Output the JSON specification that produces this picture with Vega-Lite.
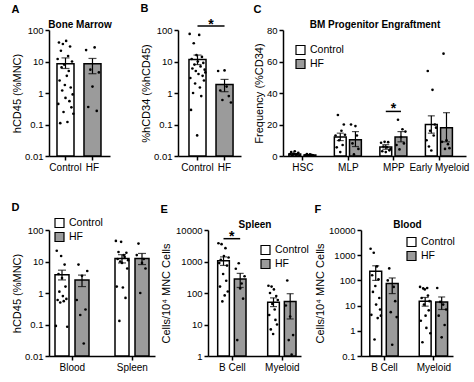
{
"$schema": "https://vega.github.io/schema/vega-lite/v6.json",
"padding": {"left": 11, "top": 2, "right": 2, "bottom": 2},
"config": {
  "font": "Liberation Sans",
  "view": {"stroke": null},
  "axis": {"grid": false, "domainColor": "black", "domainWidth": 1.5, "tickColor": "black", "tickWidth": 1.5, "tickSize": 4, "labelColor": "black", "labelFontSize": 9.5, "labelFont": "Liberation Sans", "titleColor": "black", "titleFontSize": 11, "titleFontWeight": "normal", "titleFont": "Liberation Sans", "labelPadding": 2},
  "axisX": {"labelAngle": 0, "labelFontSize": 10},
  "axisY": {"titlePadding": 2, "labelOverlap": false},
  "title": {"fontSize": 11, "fontWeight": "bold", "anchor": "start", "frame": "bounds", "offset": 0, "color": "black", "font": "Liberation Sans"},
  "legend": {"symbolType": "square", "symbolSize": 81, "symbolStrokeColor": "black", "symbolStrokeWidth": 1.2, "labelFontSize": 10.5, "labelColor": "black", "labelFont": "Liberation Sans", "rowPadding": 2, "clipHeight": 12, "labelOffset": 4}
},
"datasets": {
  "a_bar": [{"cond": "Control", "mean": 8.5, "lo": 6, "hi": 13}, {"cond": "HF", "mean": 8.5, "lo": 4.1, "hi": 12.5}],
  "a_pts": [
    {"cond":"Control","rep":1,"v":12},{"cond":"Control","rep":2,"v":0.45},{"cond":"Control","rep":3,"v":40},{"cond":"Control","rep":4,"v":2.5},{"cond":"Control","rep":5,"v":0.11},
    {"cond":"Control","rep":6,"v":22},{"cond":"Control","rep":7,"v":6.5},{"cond":"Control","rep":8,"v":1.2},{"cond":"Control","rep":9,"v":36},{"cond":"Control","rep":10,"v":0.25},
    {"cond":"Control","rep":11,"v":8},{"cond":"Control","rep":12,"v":1.8},{"cond":"Control","rep":13,"v":0.7},{"cond":"Control","rep":14,"v":45},{"cond":"Control","rep":15,"v":3.5},
    {"cond":"Control","rep":16,"v":0.12},{"cond":"Control","rep":17,"v":15},{"cond":"Control","rep":18,"v":5},{"cond":"Control","rep":19,"v":0.55},{"cond":"Control","rep":20,"v":30},
    {"cond":"Control","rep":21,"v":1.5},{"cond":"Control","rep":22,"v":0.35},{"cond":"Control","rep":23,"v":10},{"cond":"Control","rep":24,"v":0.9},{"cond":"Control","rep":25,"v":0.22},
    {"cond":"HF","rep":1,"v":23},{"cond":"HF","rep":2,"v":0.36},{"cond":"HF","rep":3,"v":5.5},{"cond":"HF","rep":4,"v":1.6},{"cond":"HF","rep":5,"v":28},{"cond":"HF","rep":6,"v":0.27},{"cond":"HF","rep":7,"v":4.5}
  ],
  "b_bar": [{"cond": "Control", "mean": 11.5, "lo": 8, "hi": 16}, {"cond": "HF", "mean": 1.85, "lo": 1.1, "hi": 2.7}],
  "b_sig": [{"cond": "Control", "cond2": "HF", "y": 134, "label": "*"}],
  "b_pts": [
    {"cond":"Control","rep":1,"v":75},{"cond":"Control","rep":2,"v":3},{"cond":"Control","rep":3,"v":0.29},{"cond":"Control","rep":4,"v":12},{"cond":"Control","rep":5,"v":6},
    {"cond":"Control","rep":6,"v":1},{"cond":"Control","rep":7,"v":38},{"cond":"Control","rep":8,"v":8},{"cond":"Control","rep":9,"v":2},{"cond":"Control","rep":10,"v":5},
    {"cond":"Control","rep":11,"v":16},{"cond":"Control","rep":12,"v":0.045},{"cond":"Control","rep":13,"v":10},{"cond":"Control","rep":14,"v":4},{"cond":"Control","rep":15,"v":70},
    {"cond":"Control","rep":16,"v":1.5},{"cond":"Control","rep":17,"v":7},{"cond":"Control","rep":18,"v":0.8},{"cond":"Control","rep":19,"v":14},{"cond":"Control","rep":20,"v":3.5},
    {"cond":"Control","rep":21,"v":9},{"cond":"Control","rep":22,"v":2.5},{"cond":"Control","rep":23,"v":5.5},{"cond":"Control","rep":24,"v":4.5},
    {"cond":"HF","rep":1,"v":5},{"cond":"HF","rep":2,"v":1.2},{"cond":"HF","rep":3,"v":0.6},{"cond":"HF","rep":4,"v":5.2},{"cond":"HF","rep":5,"v":1.6},{"cond":"HF","rep":6,"v":0.8},{"cond":"HF","rep":7,"v":0.5}
  ],
  "c_bar": [
    {"bar":"HSC|Control","cond":"Control","mean":1.3,"lo":1.0,"hi":1.6},{"bar":"HSC|HF","cond":"HF","mean":0.7,"lo":0.55,"hi":0.85},
    {"bar":"MLP|Control","cond":"Control","mean":12,"lo":9.8,"hi":14.5},{"bar":"MLP|HF","cond":"HF","mean":10.3,"lo":6,"hi":15.5},
    {"bar":"MPP|Control","cond":"Control","mean":5.7,"lo":4.3,"hi":7.2},{"bar":"MPP|HF","cond":"HF","mean":12,"lo":9,"hi":15.5},
    {"bar":"Early Myeloid|Control","cond":"Control","mean":20,"lo":14.5,"hi":25.5},{"bar":"Early Myeloid|HF","cond":"HF","mean":18,"lo":9,"hi":27.5}
  ],
  "c_sig": [{"bar": "MPP|Control", "bar2": "MPP|HF", "y": 28.3, "label": "*"}],
  "c_pts": [
    {"bar":"HSC|Control","cond":"Control","rep":1,"v":1.2},{"bar":"HSC|Control","cond":"Control","rep":2,"v":2.5},{"bar":"HSC|Control","cond":"Control","rep":3,"v":0.5},{"bar":"HSC|Control","cond":"Control","rep":4,"v":1.5},{"bar":"HSC|Control","cond":"Control","rep":5,"v":3},{"bar":"HSC|Control","cond":"Control","rep":6,"v":0.8},{"bar":"HSC|Control","cond":"Control","rep":7,"v":1},{"bar":"HSC|Control","cond":"Control","rep":8,"v":2},{"bar":"HSC|Control","cond":"Control","rep":9,"v":0.3},
    {"bar":"HSC|HF","cond":"HF","rep":1,"v":0.6},{"bar":"HSC|HF","cond":"HF","rep":2,"v":1.2},{"bar":"HSC|HF","cond":"HF","rep":3,"v":0.4},{"bar":"HSC|HF","cond":"HF","rep":4,"v":1},{"bar":"HSC|HF","cond":"HF","rep":5,"v":0.8},{"bar":"HSC|HF","cond":"HF","rep":6,"v":0.5},
    {"bar":"MLP|Control","cond":"Control","rep":1,"v":13},{"bar":"MLP|Control","cond":"Control","rep":2,"v":5.5},{"bar":"MLP|Control","cond":"Control","rep":3,"v":26},{"bar":"MLP|Control","cond":"Control","rep":4,"v":10},{"bar":"MLP|Control","cond":"Control","rep":5,"v":2.5},{"bar":"MLP|Control","cond":"Control","rep":6,"v":16},{"bar":"MLP|Control","cond":"Control","rep":7,"v":7},{"bar":"MLP|Control","cond":"Control","rep":8,"v":20},{"bar":"MLP|Control","cond":"Control","rep":9,"v":13.5},
    {"bar":"MLP|HF","cond":"HF","rep":1,"v":20},{"bar":"MLP|HF","cond":"HF","rep":2,"v":8},{"bar":"MLP|HF","cond":"HF","rep":3,"v":1},{"bar":"MLP|HF","cond":"HF","rep":4,"v":19},{"bar":"MLP|HF","cond":"HF","rep":5,"v":13},{"bar":"MLP|HF","cond":"HF","rep":6,"v":4.5},
    {"bar":"MPP|Control","cond":"Control","rep":1,"v":8.4},{"bar":"MPP|Control","cond":"Control","rep":2,"v":3},{"bar":"MPP|Control","cond":"Control","rep":3,"v":6},{"bar":"MPP|Control","cond":"Control","rep":4,"v":9},{"bar":"MPP|Control","cond":"Control","rep":5,"v":2.5},{"bar":"MPP|Control","cond":"Control","rep":6,"v":5.5},{"bar":"MPP|Control","cond":"Control","rep":7,"v":8.8},{"bar":"MPP|Control","cond":"Control","rep":8,"v":3.6},{"bar":"MPP|Control","cond":"Control","rep":9,"v":4.5},
    {"bar":"MPP|HF","cond":"HF","rep":1,"v":7},{"bar":"MPP|HF","cond":"HF","rep":2,"v":23},{"bar":"MPP|HF","cond":"HF","rep":3,"v":4.2},{"bar":"MPP|HF","cond":"HF","rep":4,"v":12},{"bar":"MPP|HF","cond":"HF","rep":5,"v":17},{"bar":"MPP|HF","cond":"HF","rep":6,"v":8},{"bar":"MPP|HF","cond":"HF","rep":7,"v":15.5},
    {"bar":"Early Myeloid|Control","cond":"Control","rep":1,"v":10},{"bar":"Early Myeloid|Control","cond":"Control","rep":2,"v":54},{"bar":"Early Myeloid|Control","cond":"Control","rep":3,"v":6},{"bar":"Early Myeloid|Control","cond":"Control","rep":4,"v":16},{"bar":"Early Myeloid|Control","cond":"Control","rep":5,"v":3.5},{"bar":"Early Myeloid|Control","cond":"Control","rep":6,"v":42},{"bar":"Early Myeloid|Control","cond":"Control","rep":7,"v":13},{"bar":"Early Myeloid|Control","cond":"Control","rep":8,"v":20},{"bar":"Early Myeloid|Control","cond":"Control","rep":9,"v":18},
    {"bar":"Early Myeloid|HF","cond":"HF","rep":1,"v":9},{"bar":"Early Myeloid|HF","cond":"HF","rep":2,"v":65},{"bar":"Early Myeloid|HF","cond":"HF","rep":3,"v":4.5},{"bar":"Early Myeloid|HF","cond":"HF","rep":4,"v":10},{"bar":"Early Myeloid|HF","cond":"HF","rep":5,"v":7.5},{"bar":"Early Myeloid|HF","cond":"HF","rep":6,"v":5}
  ],
  "d_bar": [
    {"bar":"Blood|Control","cond":"Control","mean":3.8,"lo":2.6,"hi":5.3},{"bar":"Blood|HF","cond":"HF","mean":2.6,"lo":1.6,"hi":3.7},
    {"bar":"Spleen|Control","cond":"Control","mean":12.5,"lo":9,"hi":16.5},{"bar":"Spleen|HF","cond":"HF","mean":12.5,"lo":8,"hi":18}
  ],
  "d_pts": [
    {"bar":"Blood|Control","cond":"Control","rep":1,"v":0.09},{"bar":"Blood|Control","cond":"Control","rep":2,"v":22},{"bar":"Blood|Control","cond":"Control","rep":3,"v":0.6},{"bar":"Blood|Control","cond":"Control","rep":4,"v":4},{"bar":"Blood|Control","cond":"Control","rep":5,"v":1.1},{"bar":"Blood|Control","cond":"Control","rep":6,"v":0.5},{"bar":"Blood|Control","cond":"Control","rep":7,"v":15},{"bar":"Blood|Control","cond":"Control","rep":8,"v":3},{"bar":"Blood|Control","cond":"Control","rep":9,"v":0.8},{"bar":"Blood|Control","cond":"Control","rep":10,"v":0.55},{"bar":"Blood|Control","cond":"Control","rep":11,"v":8},{"bar":"Blood|Control","cond":"Control","rep":12,"v":1.6},{"bar":"Blood|Control","cond":"Control","rep":13,"v":0.65},{"bar":"Blood|Control","cond":"Control","rep":14,"v":0.085},
    {"bar":"Blood|HF","cond":"HF","rep":1,"v":0.6},{"bar":"Blood|HF","cond":"HF","rep":2,"v":8},{"bar":"Blood|HF","cond":"HF","rep":3,"v":0.2},{"bar":"Blood|HF","cond":"HF","rep":4,"v":3.5},{"bar":"Blood|HF","cond":"HF","rep":5,"v":0.025},{"bar":"Blood|HF","cond":"HF","rep":6,"v":0.3},{"bar":"Blood|HF","cond":"HF","rep":7,"v":5},
    {"bar":"Spleen|Control","cond":"Control","rep":1,"v":45},{"bar":"Spleen|Control","cond":"Control","rep":2,"v":1.6},{"bar":"Spleen|Control","cond":"Control","rep":3,"v":12},{"bar":"Spleen|Control","cond":"Control","rep":4,"v":20},{"bar":"Spleen|Control","cond":"Control","rep":5,"v":0.13},{"bar":"Spleen|Control","cond":"Control","rep":6,"v":10},{"bar":"Spleen|Control","cond":"Control","rep":7,"v":42},{"bar":"Spleen|Control","cond":"Control","rep":8,"v":9},{"bar":"Spleen|Control","cond":"Control","rep":9,"v":1.5},{"bar":"Spleen|Control","cond":"Control","rep":10,"v":16},{"bar":"Spleen|Control","cond":"Control","rep":11,"v":14},{"bar":"Spleen|Control","cond":"Control","rep":12,"v":0.7},{"bar":"Spleen|Control","cond":"Control","rep":13,"v":19},{"bar":"Spleen|Control","cond":"Control","rep":14,"v":6},{"bar":"Spleen|Control","cond":"Control","rep":15,"v":11},
    {"bar":"Spleen|HF","cond":"HF","rep":1,"v":16},{"bar":"Spleen|HF","cond":"HF","rep":2,"v":37},{"bar":"Spleen|HF","cond":"HF","rep":3,"v":1},{"bar":"Spleen|HF","cond":"HF","rep":4,"v":9},{"bar":"Spleen|HF","cond":"HF","rep":5,"v":12},{"bar":"Spleen|HF","cond":"HF","rep":6,"v":6}
  ],
  "e_bar": [
    {"bar":"B Cell|Control","cond":"Control","mean":1050,"lo":750,"hi":1400},{"bar":"B Cell|HF","cond":"HF","mean":280,"lo":150,"hi":420},
    {"bar":"Myeloid|Control","cond":"Control","mean":51,"lo":37,"hi":70},{"bar":"Myeloid|HF","cond":"HF","mean":54,"lo":15,"hi":95}
  ],
  "e_sig": [{"bar": "B Cell|Control", "bar2": "B Cell|HF", "y": 5300, "label": "*"}],
  "e_pts": [
    {"bar":"B Cell|Control","cond":"Control","rep":1,"v":3800},{"bar":"B Cell|Control","cond":"Control","rep":2,"v":890},{"bar":"B Cell|Control","cond":"Control","rep":3,"v":160},{"bar":"B Cell|Control","cond":"Control","rep":4,"v":1130},{"bar":"B Cell|Control","cond":"Control","rep":5,"v":3550},{"bar":"B Cell|Control","cond":"Control","rep":6,"v":54},{"bar":"B Cell|Control","cond":"Control","rep":7,"v":400},{"bar":"B Cell|Control","cond":"Control","rep":8,"v":1500},{"bar":"B Cell|Control","cond":"Control","rep":9,"v":84},{"bar":"B Cell|Control","cond":"Control","rep":10,"v":2650},{"bar":"B Cell|Control","cond":"Control","rep":11,"v":245},{"bar":"B Cell|Control","cond":"Control","rep":12,"v":740},{"bar":"B Cell|Control","cond":"Control","rep":13,"v":112},{"bar":"B Cell|Control","cond":"Control","rep":14,"v":1340},
    {"bar":"B Cell|HF","cond":"HF","rep":1,"v":590},{"bar":"B Cell|HF","cond":"HF","rep":2,"v":3.2},{"bar":"B Cell|HF","cond":"HF","rep":3,"v":880},{"bar":"B Cell|HF","cond":"HF","rep":4,"v":140},{"bar":"B Cell|HF","cond":"HF","rep":5,"v":200},{"bar":"B Cell|HF","cond":"HF","rep":6,"v":66},{"bar":"B Cell|HF","cond":"HF","rep":7,"v":340},
    {"bar":"Myeloid|Control","cond":"Control","rep":1,"v":170},{"bar":"Myeloid|Control","cond":"Control","rep":2,"v":20},{"bar":"Myeloid|Control","cond":"Control","rep":3,"v":100},{"bar":"Myeloid|Control","cond":"Control","rep":4,"v":7},{"bar":"Myeloid|Control","cond":"Control","rep":5,"v":160},{"bar":"Myeloid|Control","cond":"Control","rep":6,"v":45},{"bar":"Myeloid|Control","cond":"Control","rep":7,"v":5},{"bar":"Myeloid|Control","cond":"Control","rep":8,"v":130},{"bar":"Myeloid|Control","cond":"Control","rep":9,"v":30},{"bar":"Myeloid|Control","cond":"Control","rep":10,"v":14},{"bar":"Myeloid|Control","cond":"Control","rep":11,"v":80},{"bar":"Myeloid|Control","cond":"Control","rep":12,"v":10},{"bar":"Myeloid|Control","cond":"Control","rep":13,"v":60},
    {"bar":"Myeloid|HF","cond":"HF","rep":1,"v":40},{"bar":"Myeloid|HF","cond":"HF","rep":2,"v":250},{"bar":"Myeloid|HF","cond":"HF","rep":3,"v":3.2},{"bar":"Myeloid|HF","cond":"HF","rep":4,"v":18},{"bar":"Myeloid|HF","cond":"HF","rep":5,"v":1.1},{"bar":"Myeloid|HF","cond":"HF","rep":6,"v":4.6}
  ],
  "f_bar": [
    {"bar":"B Cell|Control","cond":"Control","mean":230,"lo":100,"hi":380},{"bar":"B Cell|HF","cond":"HF","mean":75,"lo":30,"hi":125},
    {"bar":"Myeloid|Control","cond":"Control","mean":15,"lo":9.5,"hi":21},{"bar":"Myeloid|HF","cond":"HF","mean":14,"lo":7,"hi":22}
  ],
  "f_pts": [
    {"bar":"B Cell|Control","cond":"Control","rep":1,"v":1800},{"bar":"B Cell|Control","cond":"Control","rep":2,"v":4.3},{"bar":"B Cell|Control","cond":"Control","rep":3,"v":160},{"bar":"B Cell|Control","cond":"Control","rep":4,"v":35},{"bar":"B Cell|Control","cond":"Control","rep":5,"v":1250},{"bar":"B Cell|Control","cond":"Control","rep":6,"v":0.45},{"bar":"B Cell|Control","cond":"Control","rep":7,"v":60},{"bar":"B Cell|Control","cond":"Control","rep":8,"v":11},{"bar":"B Cell|Control","cond":"Control","rep":9,"v":360},{"bar":"B Cell|Control","cond":"Control","rep":10,"v":3.2},{"bar":"B Cell|Control","cond":"Control","rep":11,"v":110},{"bar":"B Cell|Control","cond":"Control","rep":12,"v":20},{"bar":"B Cell|Control","cond":"Control","rep":13,"v":7},{"bar":"B Cell|Control","cond":"Control","rep":14,"v":4},
    {"bar":"B Cell|HF","cond":"HF","rep":1,"v":100},{"bar":"B Cell|HF","cond":"HF","rep":2,"v":300},{"bar":"B Cell|HF","cond":"HF","rep":3,"v":5.5},{"bar":"B Cell|HF","cond":"HF","rep":4,"v":0.28},{"bar":"B Cell|HF","cond":"HF","rep":5,"v":55},{"bar":"B Cell|HF","cond":"HF","rep":6,"v":15},{"bar":"B Cell|HF","cond":"HF","rep":7,"v":3.5},
    {"bar":"Myeloid|Control","cond":"Control","rep":1,"v":55},{"bar":"Myeloid|Control","cond":"Control","rep":2,"v":2.5},{"bar":"Myeloid|Control","cond":"Control","rep":3,"v":20},{"bar":"Myeloid|Control","cond":"Control","rep":4,"v":0.35},{"bar":"Myeloid|Control","cond":"Control","rep":5,"v":48},{"bar":"Myeloid|Control","cond":"Control","rep":6,"v":11},{"bar":"Myeloid|Control","cond":"Control","rep":7,"v":44},{"bar":"Myeloid|Control","cond":"Control","rep":8,"v":4},{"bar":"Myeloid|Control","cond":"Control","rep":9,"v":1.3},{"bar":"Myeloid|Control","cond":"Control","rep":10,"v":50},{"bar":"Myeloid|Control","cond":"Control","rep":11,"v":25},{"bar":"Myeloid|Control","cond":"Control","rep":12,"v":6.5},{"bar":"Myeloid|Control","cond":"Control","rep":13,"v":15},{"bar":"Myeloid|Control","cond":"Control","rep":14,"v":0.8},
    {"bar":"Myeloid|HF","cond":"HF","rep":1,"v":50},{"bar":"Myeloid|HF","cond":"HF","rep":2,"v":4},{"bar":"Myeloid|HF","cond":"HF","rep":3,"v":14},{"bar":"Myeloid|HF","cond":"HF","rep":4,"v":0.55},{"bar":"Myeloid|HF","cond":"HF","rep":5,"v":11},{"bar":"Myeloid|HF","cond":"HF","rep":6,"v":1.7},{"bar":"Myeloid|HF","cond":"HF","rep":7,"v":7}
  ]
},
"vconcat": [
 {"hconcat": [
  {"title": {"text": "A"}, "width": 61, "height": 126,
   "layer": [
    {"data": {"name": "a_bar"}, "mark": {"type": "bar", "stroke": "black", "strokeWidth": 1.5},
     "encoding": {
      "x": {"field": "cond", "type": "nominal", "scale": {"domain": ["Control", "HF"], "paddingInner": 0.37, "paddingOuter": 0.315, "align": 0.47}, "axis": {"title": null}},
      "y": {"field": "mean", "type": "quantitative", "scale": {"type": "log", "domain": [0.01, 100], "nice": false}, "axis": {"title": "hCD45 (%MNC)", "values": [0.01, 0.1, 1, 10, 100], "format": "~g", "titlePadding": 2}},
      "y2": {"datum": 0.01},
      "fill": {"field": "cond", "type": "nominal", "scale": {"domain": ["Control", "HF"], "range": ["white", "#9b9b9b"]}, "legend": null}}},
    {"data": {"name": "a_bar"}, "mark": {"type": "rule", "strokeWidth": 1.2, "color": "black"},
     "encoding": {
      "x": {"field": "cond", "type": "nominal", "axis": {"orient": "top", "title": "Bone Marrow", "labels": false, "ticks": false, "domain": false, "titleFontWeight": "bold", "titleFontSize": 10, "titlePadding": 1}},
      "y": {"field": "lo", "type": "quantitative"}, "y2": {"field": "hi"}}},
    {"data": {"name": "a_bar"}, "mark": {"type": "tick", "size": 8, "thickness": 1.2, "color": "black"},
     "encoding": {"x": {"field": "cond", "type": "nominal", "axis": null}, "y": {"field": "hi", "type": "quantitative"}}},
    {"data": {"name": "a_bar"}, "mark": {"type": "tick", "size": 8, "thickness": 1.2, "color": "black"},
     "encoding": {"x": {"field": "cond", "type": "nominal", "axis": null}, "y": {"field": "lo", "type": "quantitative"}}},
    {"data": {"name": "a_pts"}, "transform": [{"filter": "datum.cond == 'Control'"}], "mark": {"type": "circle", "size": 7, "color": "black", "opacity": 1},
     "encoding": {"x": {"field": "cond", "type": "nominal", "axis": null}, "xOffset": {"field": "rep", "type": "ordinal", "scale": {"type": "point", "padding": 1}}, "y": {"field": "v", "type": "quantitative"}}},
    {"data": {"name": "a_pts"}, "transform": [{"filter": "datum.cond == 'HF'"}], "mark": {"type": "circle", "size": 7, "color": "black", "opacity": 1},
     "encoding": {"x": {"field": "cond", "type": "nominal", "axis": null}, "xOffset": {"field": "rep", "type": "ordinal", "scale": {"type": "point", "padding": 1}}, "y": {"field": "v", "type": "quantitative"}}}
   ],
   "resolve": {"axis": {"x": "independent"}, "scale": {"xOffset": "independent"}}},
  {"hconcat": [
  {"title": {"text": "B"}, "width": 63, "height": 126,
   "layer": [
    {"data": {"name": "b_bar"}, "mark": {"type": "bar", "stroke": "black", "strokeWidth": 1.5},
     "encoding": {
      "x": {"field": "cond", "type": "nominal", "scale": {"domain": ["Control", "HF"], "paddingInner": 0.37, "paddingOuter": 0.35, "align": 0.58}, "axis": {"title": null}},
      "y": {"field": "mean", "type": "quantitative", "scale": {"type": "log", "domain": [0.01, 100], "nice": false}, "axis": {"title": "%hCD34 (%hCD45)", "values": [0.01, 0.1, 1, 10, 100], "format": "~g"}},
      "y2": {"datum": 0.01},
      "fill": {"field": "cond", "type": "nominal", "scale": {"domain": ["Control", "HF"], "range": ["white", "#9b9b9b"]}, "legend": null}}},
    {"data": {"name": "b_bar"}, "mark": {"type": "rule", "strokeWidth": 1.2, "color": "black"},
     "encoding": {"x": {"field": "cond", "type": "nominal", "axis": null}, "y": {"field": "lo", "type": "quantitative"}, "y2": {"field": "hi"}}},
    {"data": {"name": "b_bar"}, "mark": {"type": "tick", "size": 8, "thickness": 1.2, "color": "black"},
     "encoding": {"x": {"field": "cond", "type": "nominal", "axis": null}, "y": {"field": "hi", "type": "quantitative"}}},
    {"data": {"name": "b_bar"}, "mark": {"type": "tick", "size": 8, "thickness": 1.2, "color": "black"},
     "encoding": {"x": {"field": "cond", "type": "nominal", "axis": null}, "y": {"field": "lo", "type": "quantitative"}}},
    {"data": {"name": "b_pts"}, "transform": [{"filter": "datum.cond == 'Control'"}], "mark": {"type": "circle", "size": 7, "color": "black", "opacity": 1},
     "encoding": {"x": {"field": "cond", "type": "nominal", "axis": null}, "xOffset": {"field": "rep", "type": "ordinal", "scale": {"type": "point", "padding": 1}}, "y": {"field": "v", "type": "quantitative"}}},
    {"data": {"name": "b_pts"}, "transform": [{"filter": "datum.cond == 'HF'"}], "mark": {"type": "circle", "size": 7, "color": "black", "opacity": 1},
     "encoding": {"x": {"field": "cond", "type": "nominal", "axis": null}, "xOffset": {"field": "rep", "type": "ordinal", "scale": {"type": "point", "padding": 1}}, "y": {"field": "v", "type": "quantitative"}}},
    {"data": {"name": "b_sig"}, "mark": {"type": "rule", "strokeWidth": 1.5, "color": "black"},
     "encoding": {"x": {"field": "cond", "type": "nominal", "axis": null}, "x2": {"field": "cond2"}, "y": {"field": "y", "type": "quantitative"}}},
    {"data": {"name": "b_sig"}, "mark": {"type": "text", "fontSize": 14, "fontWeight": "bold", "baseline": "alphabetic", "dy": 3, "dx": 13.5, "color": "black"},
     "encoding": {"x": {"field": "cond", "type": "nominal", "axis": null}, "y": {"field": "y", "type": "quantitative"}, "text": {"field": "label"}}}
   ],
   "resolve": {"axis": {"x": "independent"}, "scale": {"xOffset": "independent"}}},
  {"title": {"text": "C"}, "width": 183, "height": 126,
   "layer": [
    {"data": {"name": "c_bar"}, "mark": {"type": "bar", "stroke": "black", "strokeWidth": 1.5},
     "encoding": {
      "x": {"field": "bar", "type": "nominal", "scale": {"domain": ["HSC|Control", "HSC|HF", "s1", "MLP|Control", "MLP|HF", "s2", "MPP|Control", "MPP|HF", "s3", "Early Myeloid|Control", "Early Myeloid|HF"], "paddingInner": 0.22, "paddingOuter": 0.64, "align": 0.3},
            "axis": {"title": null, "values": ["HSC|Control", "MLP|Control", "MPP|Control", "Early Myeloid|Control"], "labelExpr": "split(datum.value, '|')[0]", "tickOffset": 7.6}},
      "y": {"field": "mean", "type": "quantitative", "scale": {"domain": [0, 80], "nice": false}, "axis": {"title": "Frequency (%CD34)", "values": [0, 20, 40, 60, 80], "tickCount": 10}},
      "fill": {"field": "cond", "type": "nominal", "scale": {"domain": ["Control", "HF"], "range": ["white", "#9b9b9b"]}, "legend": {"title": null, "orient": "none", "legendX": 12, "legendY": 14}}}},
    {"data": {"name": "c_bar"}, "mark": {"type": "rule", "strokeWidth": 1.2, "color": "black"},
     "encoding": {
      "x": {"field": "bar", "type": "nominal", "axis": {"orient": "top", "title": "BM Progenitor Engraftment", "labels": false, "ticks": false, "domain": false, "titleFontWeight": "bold", "titleFontSize": 10, "titlePadding": 1}},
      "y": {"field": "lo", "type": "quantitative"}, "y2": {"field": "hi"}}},
    {"data": {"name": "c_bar"}, "mark": {"type": "tick", "size": 7, "thickness": 1.2, "color": "black"},
     "encoding": {"x": {"field": "bar", "type": "nominal", "axis": null}, "y": {"field": "hi", "type": "quantitative"}}},
    {"data": {"name": "c_bar"}, "mark": {"type": "tick", "size": 7, "thickness": 1.2, "color": "black"},
     "encoding": {"x": {"field": "bar", "type": "nominal", "axis": null}, "y": {"field": "lo", "type": "quantitative"}}},
    {"data": {"name": "c_pts"}, "transform": [{"filter": "datum.cond == 'Control'"}], "mark": {"type": "circle", "size": 7, "color": "black", "opacity": 1},
     "encoding": {"x": {"field": "bar", "type": "nominal", "axis": null}, "xOffset": {"field": "rep", "type": "ordinal", "scale": {"type": "point", "padding": 1}}, "y": {"field": "v", "type": "quantitative"}}},
    {"data": {"name": "c_pts"}, "transform": [{"filter": "datum.cond == 'HF'"}], "mark": {"type": "circle", "size": 7, "color": "black", "opacity": 1},
     "encoding": {"x": {"field": "bar", "type": "nominal", "axis": null}, "xOffset": {"field": "rep", "type": "ordinal", "scale": {"type": "point", "padding": 1}}, "y": {"field": "v", "type": "quantitative"}}},
    {"data": {"name": "c_sig"}, "mark": {"type": "rule", "strokeWidth": 1.5, "color": "black"},
     "encoding": {"x": {"field": "bar", "type": "nominal", "axis": null}, "x2": {"field": "bar2"}, "y": {"field": "y", "type": "quantitative"}}},
    {"data": {"name": "c_sig"}, "mark": {"type": "text", "fontSize": 14, "fontWeight": "bold", "baseline": "alphabetic", "dy": 2, "dx": 7.6, "color": "black"},
     "encoding": {"x": {"field": "bar", "type": "nominal", "axis": null}, "y": {"field": "y", "type": "quantitative"}, "text": {"field": "label"}}}
   ],
   "resolve": {"axis": {"x": "independent"}, "scale": {"xOffset": "independent"}}}
  ], "spacing": 12, "resolve": {"scale": {"x": "independent", "y": "independent", "fill": "independent", "xOffset": "independent"}, "legend": {"fill": "independent"}}}
 ], "spacing": 28, "resolve": {"scale": {"x": "independent", "y": "independent", "fill": "independent", "xOffset": "independent"}, "legend": {"fill": "independent"}}},
 {"hconcat": [
  {"title": {"text": "D"}, "width": 106, "height": 126,
   "layer": [
    {"data": {"name": "d_bar"}, "mark": {"type": "bar", "stroke": "black", "strokeWidth": 1.5},
     "encoding": {
      "x": {"field": "bar", "type": "nominal", "scale": {"domain": ["Blood|Control", "Blood|HF", "s1", "Spleen|Control", "Spleen|HF"], "paddingInner": 0.3, "paddingOuter": 0.3, "align": 0.5},
            "axis": {"title": null, "values": ["Blood|Control", "Spleen|Control"], "labelExpr": "split(datum.value, '|')[0]", "tickOffset": 9.8}},
      "y": {"field": "mean", "type": "quantitative", "scale": {"type": "log", "domain": [0.01, 100], "nice": false}, "axis": {"title": "hCD45 (%MNC)", "values": [0.01, 0.1, 1, 10, 100], "format": "~g"}},
      "y2": {"datum": 0.01},
      "fill": {"field": "cond", "type": "nominal", "scale": {"domain": ["Control", "HF"], "range": ["white", "#9b9b9b"]}, "legend": {"title": null, "orient": "none", "legendX": 5, "legendY": -13}}}},
    {"data": {"name": "d_bar"}, "mark": {"type": "rule", "strokeWidth": 1.2, "color": "black"},
     "encoding": {"x": {"field": "bar", "type": "nominal", "axis": null}, "y": {"field": "lo", "type": "quantitative"}, "y2": {"field": "hi"}}},
    {"data": {"name": "d_bar"}, "mark": {"type": "tick", "size": 8, "thickness": 1.2, "color": "black"},
     "encoding": {"x": {"field": "bar", "type": "nominal", "axis": null}, "y": {"field": "hi", "type": "quantitative"}}},
    {"data": {"name": "d_bar"}, "mark": {"type": "tick", "size": 8, "thickness": 1.2, "color": "black"},
     "encoding": {"x": {"field": "bar", "type": "nominal", "axis": null}, "y": {"field": "lo", "type": "quantitative"}}},
    {"data": {"name": "d_pts"}, "transform": [{"filter": "datum.cond == 'Control'"}], "mark": {"type": "circle", "size": 7, "color": "black", "opacity": 1},
     "encoding": {"x": {"field": "bar", "type": "nominal", "axis": null}, "xOffset": {"field": "rep", "type": "ordinal", "scale": {"type": "point", "padding": 1}}, "y": {"field": "v", "type": "quantitative"}}},
    {"data": {"name": "d_pts"}, "transform": [{"filter": "datum.cond == 'HF'"}], "mark": {"type": "circle", "size": 7, "color": "black", "opacity": 1},
     "encoding": {"x": {"field": "bar", "type": "nominal", "axis": null}, "xOffset": {"field": "rep", "type": "ordinal", "scale": {"type": "point", "padding": 1}}, "y": {"field": "v", "type": "quantitative"}}}
   ],
   "resolve": {"axis": {"x": "independent"}, "scale": {"xOffset": "independent"}}},
  {"title": {"text": "E"}, "width": 93, "height": 126,
   "layer": [
    {"data": {"name": "e_bar"}, "mark": {"type": "bar", "stroke": "black", "strokeWidth": 1.5},
     "encoding": {
      "x": {"field": "bar", "type": "nominal", "scale": {"domain": ["B Cell|Control", "B Cell|HF", "s1", "Myeloid|Control", "Myeloid|HF"], "paddingInner": 0.3, "paddingOuter": 0.44, "align": 0.66},
            "axis": {"title": null, "values": ["B Cell|Control", "Myeloid|Control"], "labelExpr": "split(datum.value, '|')[0]", "tickOffset": 8.33}},
      "y": {"field": "mean", "type": "quantitative", "scale": {"type": "log", "domain": [1, 10000], "nice": false}, "axis": {"title": "Cells/10⁴ MNC Cells", "values": [1, 10, 100, 1000, 10000], "format": "~g", "titlePadding": 4}},
      "y2": {"datum": 1},
      "fill": {"field": "cond", "type": "nominal", "scale": {"domain": ["Control", "HF"], "range": ["white", "#9b9b9b"]}, "legend": {"title": null, "orient": "none", "legendX": 52, "legendY": 14}}}},
    {"data": {"name": "e_bar"}, "mark": {"type": "rule", "strokeWidth": 1.2, "color": "black"},
     "encoding": {
      "x": {"field": "bar", "type": "nominal", "axis": {"orient": "top", "title": "Spleen", "labels": false, "ticks": false, "domain": false, "titleFontWeight": "bold", "titleFontSize": 10, "titlePadding": 1}},
      "y": {"field": "lo", "type": "quantitative"}, "y2": {"field": "hi"}}},
    {"data": {"name": "e_bar"}, "mark": {"type": "tick", "size": 7, "thickness": 1.2, "color": "black"},
     "encoding": {"x": {"field": "bar", "type": "nominal", "axis": null}, "y": {"field": "hi", "type": "quantitative"}}},
    {"data": {"name": "e_bar"}, "mark": {"type": "tick", "size": 7, "thickness": 1.2, "color": "black"},
     "encoding": {"x": {"field": "bar", "type": "nominal", "axis": null}, "y": {"field": "lo", "type": "quantitative"}}},
    {"data": {"name": "e_pts"}, "transform": [{"filter": "datum.cond == 'Control'"}], "mark": {"type": "circle", "size": 7, "color": "black", "opacity": 1},
     "encoding": {"x": {"field": "bar", "type": "nominal", "axis": null}, "xOffset": {"field": "rep", "type": "ordinal", "scale": {"type": "point", "padding": 1}}, "y": {"field": "v", "type": "quantitative"}}},
    {"data": {"name": "e_pts"}, "transform": [{"filter": "datum.cond == 'HF'"}], "mark": {"type": "circle", "size": 7, "color": "black", "opacity": 1},
     "encoding": {"x": {"field": "bar", "type": "nominal", "axis": null}, "xOffset": {"field": "rep", "type": "ordinal", "scale": {"type": "point", "padding": 1}}, "y": {"field": "v", "type": "quantitative"}}},
    {"data": {"name": "e_sig"}, "mark": {"type": "rule", "strokeWidth": 1.5, "color": "black"},
     "encoding": {"x": {"field": "bar", "type": "nominal", "axis": null}, "x2": {"field": "bar2"}, "y": {"field": "y", "type": "quantitative"}}},
    {"data": {"name": "e_sig"}, "mark": {"type": "text", "fontSize": 14, "fontWeight": "bold", "baseline": "alphabetic", "dy": 2, "dx": 8.33, "color": "black"},
     "encoding": {"x": {"field": "bar", "type": "nominal", "axis": null}, "y": {"field": "y", "type": "quantitative"}, "text": {"field": "label"}}}
   ],
   "resolve": {"axis": {"x": "independent"}, "scale": {"xOffset": "independent"}}},
  {"title": {"text": "F"}, "width": 92, "height": 126,
   "layer": [
    {"data": {"name": "f_bar"}, "mark": {"type": "bar", "stroke": "black", "strokeWidth": 1.5},
     "encoding": {
      "x": {"field": "bar", "type": "nominal", "scale": {"domain": ["B Cell|Control", "B Cell|HF", "s1", "Myeloid|Control", "Myeloid|HF"], "paddingInner": 0.28, "paddingOuter": 0.43, "align": 0.62},
            "axis": {"title": null, "values": ["B Cell|Control", "Myeloid|Control"], "labelExpr": "split(datum.value, '|')[0]", "tickOffset": 8.25}},
      "y": {"field": "mean", "type": "quantitative", "scale": {"type": "log", "domain": [0.1, 10000], "nice": false}, "axis": {"title": "Cells/10⁴ MNC Cells", "values": [0.1, 1, 10, 100, 1000, 10000], "format": "~g", "titlePadding": 3}},
      "y2": {"datum": 0.1},
      "fill": {"field": "cond", "type": "nominal", "scale": {"domain": ["Control", "HF"], "range": ["white", "#9b9b9b"]}, "legend": {"title": null, "orient": "none", "legendX": 45, "legendY": 6}}}},
    {"data": {"name": "f_bar"}, "mark": {"type": "rule", "strokeWidth": 1.2, "color": "black"},
     "encoding": {
      "x": {"field": "bar", "type": "nominal", "axis": {"orient": "top", "title": "Blood", "labels": false, "ticks": false, "domain": false, "titleFontWeight": "bold", "titleFontSize": 10, "titlePadding": 1}},
      "y": {"field": "lo", "type": "quantitative"}, "y2": {"field": "hi"}}},
    {"data": {"name": "f_bar"}, "mark": {"type": "tick", "size": 7, "thickness": 1.2, "color": "black"},
     "encoding": {"x": {"field": "bar", "type": "nominal", "axis": null}, "y": {"field": "hi", "type": "quantitative"}}},
    {"data": {"name": "f_bar"}, "mark": {"type": "tick", "size": 7, "thickness": 1.2, "color": "black"},
     "encoding": {"x": {"field": "bar", "type": "nominal", "axis": null}, "y": {"field": "lo", "type": "quantitative"}}},
    {"data": {"name": "f_pts"}, "transform": [{"filter": "datum.cond == 'Control'"}], "mark": {"type": "circle", "size": 7, "color": "black", "opacity": 1},
     "encoding": {"x": {"field": "bar", "type": "nominal", "axis": null}, "xOffset": {"field": "rep", "type": "ordinal", "scale": {"type": "point", "padding": 1}}, "y": {"field": "v", "type": "quantitative"}}},
    {"data": {"name": "f_pts"}, "transform": [{"filter": "datum.cond == 'HF'"}], "mark": {"type": "circle", "size": 7, "color": "black", "opacity": 1},
     "encoding": {"x": {"field": "bar", "type": "nominal", "axis": null}, "xOffset": {"field": "rep", "type": "ordinal", "scale": {"type": "point", "padding": 1}}, "y": {"field": "v", "type": "quantitative"}}}
   ],
   "resolve": {"axis": {"x": "independent"}, "scale": {"xOffset": "independent"}}}
 ], "spacing": 5, "resolve": {"scale": {"x": "independent", "y": "independent", "fill": "independent", "xOffset": "independent"}, "legend": {"fill": "independent"}}}
],
"spacing": 30,
"resolve": {"scale": {"x": "independent", "y": "independent", "fill": "independent", "xOffset": "independent"}, "legend": {"fill": "independent"}}
}
